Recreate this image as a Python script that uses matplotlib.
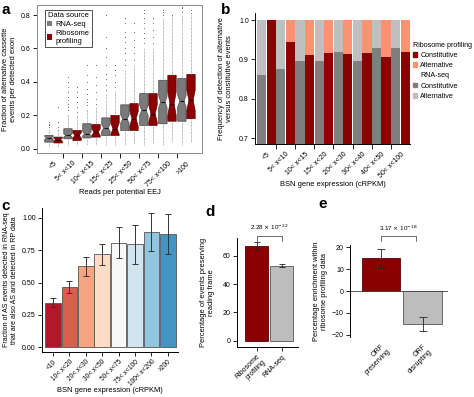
import numpy as np
import matplotlib
matplotlib.use("Agg")
import matplotlib.pyplot as plt
from matplotlib.patches import Patch

plt.rcParams["font.family"] = ["Liberation Sans", "DejaVu Sans"]
plt.rcParams["font.size"] = 5
plt.rcParams["axes.linewidth"] = 0.7
plt.rcParams["xtick.major.width"] = 0.6
plt.rcParams["ytick.major.width"] = 0.6
plt.rcParams["xtick.minor.width"] = 0.6
plt.rcParams["xtick.major.size"] = 3
plt.rcParams["ytick.major.size"] = 3
plt.rcParams["xtick.major.pad"] = 1.5
plt.rcParams["ytick.major.pad"] = 1.5

LABEL_FS = 5.4

# -----------------------------
# Panel a data: box stats per read bin
# -----------------------------
a_bins = ["<5", "5< x<10", "10< x<15", "15< x<25", "25< x<50", "50< x<75", "75< x<100", ">100"]

rna_q1 = [0.040, 0.060, 0.065, 0.080, 0.110, 0.140, 0.150, 0.165]
rna_med = [0.065, 0.080, 0.090, 0.125, 0.178, 0.230, 0.280, 0.285]
rna_q3 = [0.080, 0.120, 0.150, 0.185, 0.263, 0.330, 0.410, 0.420]
rna_lo = [0.010, 0.020, 0.020, 0.020, 0.020, 0.020, 0.020, 0.020]
rna_hi = [0.120, 0.210, 0.240, 0.330, 0.470, 0.600, 0.780, 0.800]
rna_notch = [0.008, 0.010, 0.012, 0.020, 0.025, 0.030, 0.035, 0.035]
rna_fliers = [
    [0.13, 0.14, 0.15, 0.16],
    [0.23, 0.25, 0.27, 0.29, 0.31, 0.34, 0.37, 0.40, 0.43],
    [0.26, 0.28, 0.30, 0.33, 0.36, 0.40, 0.44, 0.50],
    [0.35, 0.38, 0.42, 0.45, 0.50, 0.55, 0.60, 0.67, 0.80],
    [0.50, 0.53, 0.57, 0.60, 0.64, 0.67, 0.70, 0.75, 0.78],
    [0.63, 0.66, 0.69, 0.72, 0.75, 0.78, 0.81, 0.83],
    [0.80, 0.82, 0.83],
    [0.82, 0.84, 0.85],
]

rp_q1 = [0.035, 0.050, 0.070, 0.080, 0.110, 0.140, 0.165, 0.180]
rp_med = [0.055, 0.080, 0.100, 0.120, 0.180, 0.210, 0.270, 0.290]
rp_q3 = [0.070, 0.110, 0.145, 0.200, 0.270, 0.330, 0.440, 0.445]
rp_lo = [0.010, 0.020, 0.020, 0.020, 0.030, 0.030, 0.040, 0.040]
rp_hi = [0.100, 0.200, 0.250, 0.350, 0.500, 0.600, 0.800, 0.800]
rp_notch = [0.008, 0.015, 0.020, 0.035, 0.045, 0.050, 0.070, 0.060]
rp_fliers = [
    [0.11, 0.13, 0.16, 0.25],
    [0.22, 0.25, 0.28, 0.31, 0.34, 0.37],
    [0.27, 0.30, 0.34, 0.38, 0.43, 0.50],
    [0.37, 0.40, 0.44, 0.47, 0.50],
    [0.53, 0.57, 0.61, 0.65, 0.70, 0.75],
    [0.63, 0.67, 0.71, 0.75, 0.78],
    [0.80],
    [0.81, 0.83],
]

# -----------------------------
# Panel b data: stacked frequencies
# -----------------------------
b_bins = ["<5", "5< x<10", "10< x<15", "15< x<20", "20< x<30", "30< x<40", "40< x<50", "50< x<100"]
b_rna_const = [0.860, 0.875, 0.896, 0.897, 0.919, 0.896, 0.930, 0.929]
b_rp_const = [1.000, 0.945, 0.910, 0.917, 0.913, 0.917, 0.907, 0.920]
b_total = [1.0] * 8

# -----------------------------
# Panel c data
# -----------------------------
c_bins = ["<10", "10< x<20", "20< x<30", "30< x<50", "50< x<75", "75< x<100", "100< x<200", ">200"]
c_vals = [0.340, 0.465, 0.625, 0.720, 0.810, 0.795, 0.890, 0.875]
c_err_lo = [0.310, 0.420, 0.555, 0.635, 0.690, 0.645, 0.745, 0.720]
c_err_hi = [0.380, 0.510, 0.695, 0.800, 0.930, 0.945, 1.035, 1.030]
c_colors = ["#b2182b", "#d6604d", "#f4a582", "#fddbc7", "#f7f7f7", "#d1e5f0", "#92c5de", "#4393c3"]

# -----------------------------
# Panel d / e data
# -----------------------------
d_labels = ["Ribosome\nprofiling", "RNA-seq"]
d_vals = [67.0, 53.0]
d_err = [2.8, 1.0]
d_pval = r"2.28 $\times$ 10$^{-22}$"

e_labels = ["ORF\npreserving", "ORF\ndisrupting"]
e_vals = [15.0, -15.0]
e_err = [4.3, 3.2]
e_pval = r"3.17 $\times$ 10$^{-18}$"

RED = "#8b0000"
GRAY_BOX = "#7a7a7a"
LIGHT = "#bdbdbd"

W, H = 474, 397
fig = plt.figure(figsize=(W / 100, H / 100), dpi=100)


def rect(left, top, right, bottom):
    return [left / W, 1 - bottom / H, (right - left) / W, (bottom - top) / H]


# ---------------- Panel a ----------------
ax_a = fig.add_axes(rect(37, 5, 202, 153))
pos = np.arange(len(a_bins))
for q1, med, q3, lo, hi, nt, fl, off, col in [
    (rna_q1, rna_med, rna_q3, rna_lo, rna_hi, rna_notch, rna_fliers, -0.24, GRAY_BOX),
    (rp_q1, rp_med, rp_q3, rp_lo, rp_hi, rp_notch, rp_fliers, 0.24, RED),
]:
    stats = []
    for i in range(len(a_bins)):
        stats.append(dict(med=med[i], q1=q1[i], q3=q3[i], whislo=lo[i], whishi=hi[i],
                          cilo=med[i] - nt[i], cihi=med[i] + nt[i], fliers=fl[i]))
    ax_a.bxp(stats, positions=pos + off, widths=0.44, shownotches=True, patch_artist=True,
             showcaps=False,
             boxprops=dict(facecolor=col, edgecolor="#444444" if col == GRAY_BOX else "#5a0000", linewidth=0.5),
             medianprops=dict(color="#111111", linewidth=0.8),
             whiskerprops=dict(color="#777777", linewidth=0.5, linestyle=(0, (1, 1))),
             flierprops=dict(marker="o", markersize=0.8, markerfacecolor="#666666",
                             markeredgecolor="none", linestyle="none"))
ax_a.set_xlim(-0.87, 7.82)
ax_a.set_ylim(-0.025, 0.86)
ax_a.set_yticks([0.0, 0.2, 0.4, 0.6, 0.8])
ax_a.set_xticks(pos)
ax_a.set_xticklabels(a_bins, rotation=45, ha="right", rotation_mode="anchor")
ax_a.tick_params(axis="x", which="major", length=0, pad=5)
ax_a.set_xticks(pos[:-1] + 0.5, minor=True)
ax_a.tick_params(axis="x", which="minor", length=3.5)
for s in ax_a.spines.values():
    s.set_color("#888888")
ax_a.set_xlabel("Reads per potential EEJ", fontsize=LABEL_FS)
ax_a.xaxis.set_label_coords(0.5, -0.24)
ax_a.set_ylabel("Fraction of alternative cassette\nevents per detected exon", fontsize=LABEL_FS, labelpad=3)
leg_a = ax_a.legend(handles=[Patch(facecolor=GRAY_BOX, edgecolor="none"), Patch(facecolor=RED, edgecolor="none")],
                    labels=["RNA-seq", "Ribosome\nprofiling"], title="Data source", loc="upper left",
                    fontsize=5.4, title_fontsize=5.4, frameon=True, fancybox=False, handlelength=0.7,
                    handleheight=0.7, handletextpad=0.4, borderpad=0.3, labelspacing=0.2,
                    bbox_to_anchor=(0.025, 0.99))
leg_a.get_frame().set_edgecolor("black")
leg_a.get_frame().set_linewidth(0.6)

# ---------------- Panel b ----------------
ax_b = fig.add_axes(rect(255, 13, 410, 144))
pb = np.arange(len(b_bins))
ax_b.bar(pb - 0.25, b_total, width=0.48, color="#bfbfbf")
ax_b.bar(pb - 0.25, b_rna_const, width=0.48, color="#7f7f7f")
ax_b.bar(pb + 0.25, b_total, width=0.48, color="#fc9272")
ax_b.bar(pb + 0.25, b_rp_const, width=0.48, color=RED)
ax_b.set_xlim(-0.6, 7.5)
ax_b.set_ylim(0.685, 1.018)
ax_b.set_yticks([0.7, 0.8, 0.9, 1.0])
ax_b.set_xticks(pb)
ax_b.set_xticklabels(b_bins, rotation=45, ha="right", rotation_mode="anchor")
ax_b.tick_params(axis="x", which="major", length=0, pad=5)
ax_b.set_xticks(pb[:-1] + 0.5, minor=True)
ax_b.tick_params(axis="x", which="minor", length=3.5)
ax_b.spines["top"].set_visible(False)
ax_b.spines["right"].set_visible(False)
ax_b.set_xlabel("BSN gene expression (cRPKM)", fontsize=LABEL_FS)
ax_b.xaxis.set_label_coords(0.5, -0.28)
ax_b.set_ylabel("Frequency of detection of alternative\nversus constitutive events", fontsize=LABEL_FS, labelpad=4)
blank = Patch(facecolor="none", edgecolor="none")
leg_b = ax_b.legend(handles=[Patch(color=RED), Patch(color="#fc9272"), blank,
                             Patch(color="#7f7f7f"), Patch(color="#bfbfbf")],
                    labels=["Constitutive", "Alternative", "RNA-seq", "Constitutive", "Alternative"],
                    title="Ribosome profiling", loc="upper left", bbox_to_anchor=(1.02, 0.78),
                    frameon=False, fontsize=5.1, title_fontsize=5.1, handlelength=0.6, handleheight=0.6,
                    handletextpad=0.4, labelspacing=0.45, borderaxespad=0, borderpad=0)
leg_b._legend_box.align = "left"

# ---------------- Panel c ----------------
ax_c = fig.add_axes(rect(42, 208, 178, 352))
pc = np.arange(len(c_bins))
yerr_c = [np.array(c_vals) - np.array(c_err_lo), np.array(c_err_hi) - np.array(c_vals)]
ax_c.bar(pc, c_vals, width=0.94, color=c_colors, edgecolor="#555555", linewidth=0.6)
ax_c.errorbar(pc, c_vals, yerr=yerr_c, fmt="none", ecolor="#333333", elinewidth=0.7, capsize=2, capthick=0.7)
ax_c.set_xlim(-0.67, 7.62)
ax_c.set_ylim(-0.036, 1.077)
ax_c.set_yticks([0.0, 0.25, 0.5, 0.75, 1.0])
ax_c.set_yticklabels(["0.00", "0.25", "0.50", "0.75", "1.00"])
ax_c.set_xticks(pc)
ax_c.set_xticklabels(c_bins, rotation=45, ha="right", rotation_mode="anchor", fontsize=4.7)
ax_c.spines["top"].set_visible(False)
ax_c.spines["right"].set_visible(False)
ax_c.set_xlabel("BSN gene expression (cRPKM)", fontsize=LABEL_FS)
ax_c.xaxis.set_label_coords(0.5, -0.24)
ax_c.set_ylabel("Fraction of AS events detected in RNA-seq\nthat are also AS and detected in RP data",
                fontsize=5.0, labelpad=3)

# ---------------- Panel d ----------------
ax_d = fig.add_axes(rect(237, 238, 298, 347))
ax_d.bar([0, 1], d_vals, width=0.92, color=[RED, LIGHT], edgecolor=["#5a0000", "#555555"], linewidth=0.6)
ax_d.errorbar([0, 1], d_vals, yerr=d_err, fmt="none", ecolor="#222222", elinewidth=0.6, capsize=2, capthick=0.6)
ax_d.set_xlim(-0.78, 1.66)
ax_d.set_ylim(-4.4, 72.5)
ax_d.set_yticks([0, 20, 40, 60])
ax_d.set_xticks([0, 1])
ax_d.set_xticklabels(d_labels, rotation=45, ha="right", rotation_mode="anchor")
ax_d.spines["top"].set_visible(False)
ax_d.spines["right"].set_visible(False)
ax_d.set_ylabel("Percentage of events preserving\nreading frame", fontsize=LABEL_FS, labelpad=6)
ax_d.plot([0, 0, 1, 1], [70.5, 73.9, 73.9, 70.5], color="#555555", lw=0.6, clip_on=False)
ax_d.text(0.5, 77, d_pval, ha="center", va="bottom", fontsize=4.5)

# ---------------- Panel e ----------------
ax_e = fig.add_axes(rect(350, 245, 448, 337))
ax_e.bar([0, 1], e_vals, width=0.93, color=[RED, LIGHT], edgecolor=["#5a0000", "#555555"], linewidth=0.6)
ax_e.errorbar([0, 1], e_vals, yerr=e_err, fmt="none", ecolor="#222222", elinewidth=0.6, capsize=3, capthick=0.6)
ax_e.axhline(0, color="#444444", lw=0.6)
ax_e.set_xlim(-0.75, 1.61)
ax_e.set_ylim(-21, 21)
ax_e.set_yticks([-20, -10, 0, 10, 20])
ax_e.set_xticks([0, 1])
ax_e.set_xticklabels(e_labels, rotation=45, ha="right", rotation_mode="anchor")
ax_e.tick_params(axis="x", length=0, pad=4)
for s in ["top", "right", "bottom"]:
    ax_e.spines[s].set_visible(False)
ax_e.set_ylabel("Percentage enrichment within\nribosome profiling data", fontsize=LABEL_FS, labelpad=3)
ax_e.plot([0, 0, 0.85, 0.85], [22.9, 25.2, 25.2, 22.9], color="#555555", lw=0.6, clip_on=False)
ax_e.text(0.42, 26.6, e_pval, ha="center", va="bottom", fontsize=4.5)

# Panel letters
for letter, x, y in [("a", 2, 14), ("b", 221, 14), ("c", 1, 210), ("d", 205, 216), ("e", 318, 208)]:
    fig.text(x / W, 1 - y / H, letter, fontsize=11, fontweight="bold", va="baseline")

fig.savefig("out.png", dpi=100)
